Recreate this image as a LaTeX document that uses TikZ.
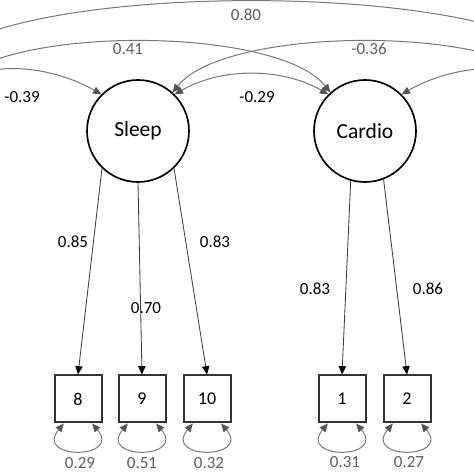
\documentclass[tikz,border=0pt]{standalone}
\usepackage{fontspec}
\setmainfont{Carlito}
\usetikzlibrary{arrows.meta}
\definecolor{arcgray}{HTML}{787878}
\definecolor{tipgray}{HTML}{555555}
\definecolor{labelgray}{HTML}{5E5E5E}
\definecolor{loadgray}{HTML}{3C3C3C}
\tikzset{
	latentnode/.style={
			circle,
			draw=black,
			line width=1pt,
			fill=white,
			minimum size=61.2pt,
			inner sep=0pt,
			font=\fontsize{12.9}{14}\selectfont
		},
	itemnode/.style={
			rectangle,
			draw=black!80,
			line width=1.2pt,
			fill=white,
			minimum size=28.2pt,
			inner sep=0pt,
			font=\fontsize{10.8}{12}\selectfont
		},
	covarrow/.style={
			draw=arcgray,
			line width=0.6pt,
			{Triangle[length=5pt,width=4.4pt,color=tipgray]}-{Triangle[length=5pt,width=4.4pt,color=tipgray]}
		},
	loadarrow/.style={
			draw=loadgray,
			line width=0.5pt,
			-{Triangle[length=5pt,width=4.4pt,color=black]}
		},
	residloop/.style={
			covarrow,
			out=-130,
			in=-50,
			looseness=4.3
		},
	valuelabel/.style={
			inner sep=0pt,
			font=\fontsize{10.2}{12}\selectfont
		},
	graylabel/.style={
			valuelabel,
			text=labelgray
		}
}

\begin{document}
\begin{tikzpicture}[x=0.6pt,y=0.6pt]
\path[use as bounding box, fill=white] (0,0) rectangle (474,474);

% latent factors
\node[latentnode] (sleep) at (138,343) {Sleep};
\node[latentnode] (cardio) at (365,343) {Cardio};

% indicators
\node[itemnode] (b8) at (78,75) {8};
\node[itemnode] (b9) at (142,75) {9};
\node[itemnode] (b10) at (207,75) {10};
\node[itemnode] (b1) at (342,75) {1};
\node[itemnode] (b2) at (407,75) {2};

% factors outside the picture
\coordinate (offL) at (-52,382);
\coordinate (offLtop) at (-72,391);
\coordinate (offR) at (555,382);
\coordinate (offRtop) at (575,391);

% covariances
\draw[covarrow] (offLtop) to[out=75, in=105, looseness=0.44] (offRtop);
\draw[covarrow] (offL) to[out=52, in=128, looseness=0.57] (cardio.132);
\draw[covarrow] (sleep.48) to[out=52, in=128, looseness=0.57] (offR);
\draw[covarrow] (offL) to[out=40, in=150, looseness=0.9] (sleep.135);
\draw[covarrow] (sleep.45) to[out=30, in=150, looseness=0.9] (cardio.135);
\draw[covarrow] (cardio.45) to[out=30, in=140, looseness=0.9] (offR);

\node[graylabel] (c80) at (246,459) {0.80};
\node[graylabel] (c41) at (128,425) {0.41};
\node[graylabel] (c36) at (369,425) {-0.36};
\node[valuelabel] (c39) at (22,377) {-0.39};
\node[valuelabel] (c29) at (257,377) {-0.29};

% loadings
\draw[loadarrow] (sleep.226) -- (b8.north);
\draw[loadarrow] (sleep.south) -- (b9.north);
\draw[loadarrow] (sleep.-46) -- (b10.north);
\draw[loadarrow] (cardio.-106) -- (b1.north);
\draw[loadarrow] (cardio.-69) -- (b2.north);

\node[valuelabel] (l8) at (73,232) {0.85};
\node[valuelabel] (l9) at (146,166) {0.70};
\node[valuelabel] (l10) at (215,232) {0.83};
\node[valuelabel] (l1) at (315,185) {0.83};
\node[valuelabel] (l2) at (428,185) {0.86};

% residuals
\draw[residloop] (b8.-120) to (b8.-60);
\draw[residloop] (b9.-120) to (b9.-60);
\draw[residloop] (b10.-120) to (b10.-60);
\draw[residloop] (b1.-120) to (b1.-60);
\draw[residloop] (b2.-120) to (b2.-60);

\node[graylabel] (r8) at (80,11) {0.29};
\node[graylabel] (r9) at (142,11) {0.51};
\node[graylabel] (r10) at (209,11) {0.32};
\node[graylabel] (r1) at (345,12) {0.31};
\node[graylabel] (r2) at (409,12) {0.27};

\end{tikzpicture}
\end{document}
